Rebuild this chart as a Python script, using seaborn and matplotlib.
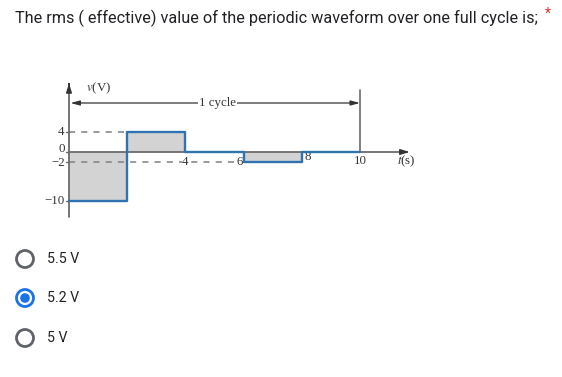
import matplotlib
matplotlib.use("Agg")
import matplotlib.pyplot as plt
import seaborn as sns
import pandas as pd
from matplotlib.patches import Circle

# ---- data ----
t_values = [0, 2, 4, 6, 8, 10]
v_values = [-10, 4, 0, -2, 0, 0]
ytick_values = [4, 0, -2, -10]
ytick_labels = ["4", "0", "\u22122", "\u221210"]
title = "The rms ( effective) value of the periodic waveform over one full cycle is;"
options = ["5.5 V", "5.2 V", "5 V"]
selected = 1

sns.set_theme(style="white")
plt.rcParams["font.family"] = ["Roboto", "DejaVu Sans"]
plt.rcParams["mathtext.fontset"] = "stix"

W, H = 562, 377
fig = plt.figure(figsize=(W / 100, H / 100), dpi=100)
fig.patch.set_facecolor("white")

# overlay axes in pixel coordinates for the form elements
ov = fig.add_axes([0, 0, 1, 1])
ov.set_xlim(0, W)
ov.set_ylim(H, 0)
ov.axis("off")
ov.text(15, 18, title, fontsize=11.7, color="#202124", va="center", ha="left")
ov.text(545, 14, "*", fontsize=10, color="#d93025", va="center", ha="left")
opt_y = [259, 298, 338]
for i, (lab, y) in enumerate(zip(options, opt_y)):
    if i == selected:
        ov.add_patch(Circle((25, y), 8.5, fill=False, ec="#1a73e8", lw=2.0))
        ov.add_patch(Circle((25, y), 4.8, fc="#1a73e8", ec="none"))
    else:
        ov.add_patch(Circle((25, y), 8.5, fill=False, ec="#5f6368", lw=2.0))
    ov.text(47, y, lab, fontsize=10.2, color="#202124", va="center", ha="left")

# chart axes: t -> px = 69 + 29.1 t ; v -> px = 152 - 4.9 v
L, R, T, B = 40, 430, 75, 225
ax = fig.add_axes([L / W, 1 - B / H, (R - L) / W, (B - T) / H])
ax.set_facecolor("none")
ax.set_xlim((L - 69) / 29.1, (R - 69) / 29.1)
ax.set_ylim((152 - B) / 4.9, (152 - T) / 4.9)
ax.axis("off")

df = pd.DataFrame({"t": t_values, "v": v_values})
ax.fill_between(df["t"], df["v"], 0, step="post", color="#d3d3d3", lw=0, zorder=1)

axis_c = "#6b6b6b"
txt_c = "#333333"
serif = "Liberation Serif"
fs = 9.3
# dashed guide lines
ax.plot([0, 2], [4, 4], ls=(0, (4, 4)), color="#808080", lw=1.1, zorder=2)
ax.plot([0, 6], [-2, -2], ls=(0, (4, 4)), color="#808080", lw=1.1, zorder=2)
ax.text(4, -2, "4", fontsize=fs, family=serif, color=txt_c,
        ha="center", va="center", zorder=3,
        bbox=dict(fc="white", ec="none", pad=0.3))
ax.text(5.97, -2, "6", fontsize=fs, family=serif, color=txt_c,
        ha="right", va="center", zorder=3,
        bbox=dict(fc="white", ec="none", pad=0.3))

# axes lines
ax.plot([0, 11.6], [0, 0], color=axis_c, lw=1.3, zorder=2)
ax.annotate("", xy=(11.8, 0), xytext=(11.4, 0),
            arrowprops=dict(arrowstyle="-|>,head_length=0.45,head_width=0.14",
                            color=txt_c, lw=1.0))
ax.plot([0, 0], [-13.3, 13.8], color=axis_c, lw=1.3, zorder=2)
ax.annotate("", xy=(0, 14.6), xytext=(0, 13.3),
            arrowprops=dict(arrowstyle="-|>,head_length=0.45,head_width=0.14",
                            color=txt_c, lw=1.0))
for yv, yl in zip(ytick_values, ytick_labels):
    ax.plot([-0.12, 0], [yv, yv], color=axis_c, lw=1.0)
    dy = 0.6 if yv == 0 else (-0.3 if yv == -2 else 0)
    ax.text(-0.15, yv + dy, yl, fontsize=fs, family=serif, color=txt_c,
            ha="right", va="center")

# waveform
sns.lineplot(data=df, x="t", y="v", drawstyle="steps-post", color="#2f73b0",
             lw=1.7, ax=ax, zorder=4)

# one-cycle marker
ax.plot([10, 10], [0, 12.65], color=axis_c, lw=1.2, zorder=2)
ax.annotate("", xy=(0.05, 10), xytext=(10, 10),
            arrowprops=dict(arrowstyle="<|-|>,head_length=0.45,head_width=0.12",
                            color=txt_c, lw=0.9, shrinkA=0, shrinkB=0))
ax.text(5.1, 10, "1 cycle", fontsize=fs, family=serif, color=txt_c,
        ha="center", va="center", bbox=dict(fc="white", ec="none", pad=0.5))

ax.text(0.6, 13.1, r"$v$(V)", fontsize=fs, family=serif, color=txt_c,
        ha="left", va="center")
ax.text(10, -1.8, "10", fontsize=fs, family=serif, color=txt_c,
        ha="center", va="center")
ax.text(8.08, -1.1, "8", fontsize=fs, family=serif, color=txt_c,
        ha="left", va="center")
ax.text(11.6, -1.8, r"$t$(s)", fontsize=fs, family=serif, color=txt_c,
        ha="center", va="center")

fig.savefig("out.png", dpi=100, facecolor="white")
